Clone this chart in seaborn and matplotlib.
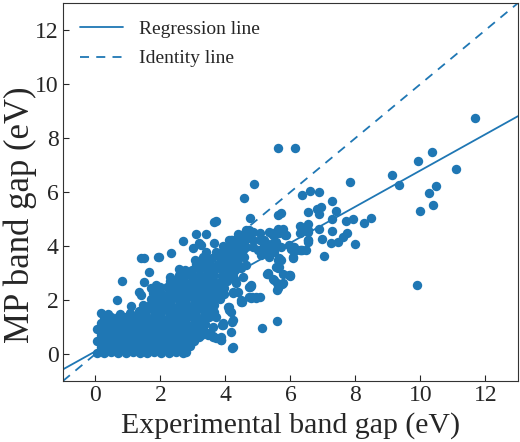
import numpy as np
import pandas as pd
import seaborn as sns
import matplotlib.pyplot as plt

# (experimental gap, MP gap) pairs, in eV
core_points = [
    (0.05, 0.05), (0.27, 0.04), (0.49, 0.06), (0.71, 0.05), (0.93, 0.04), (1.15, 0.06), (1.37, 0.05),
    (1.59, 0.04), (1.81, 0.06), (2.03, 0.05), (2.25, 0.04), (2.47, 0.06), (2.69, 0.05), (2.80, 0.08),
    (0.16, 0.27), (0.38, 0.28), (0.60, 0.26), (0.82, 0.27), (1.04, 0.29), (1.26, 0.27), (1.48, 0.26),
    (1.70, 0.28), (1.92, 0.27), (2.14, 0.26), (2.36, 0.28), (2.58, 0.27), (2.80, 0.27), (2.92, 0.30),
    (0.05, 0.49), (0.27, 0.50), (0.49, 0.48), (0.71, 0.49), (0.93, 0.51), (1.15, 0.49), (1.37, 0.48),
    (1.59, 0.50), (1.81, 0.49), (2.03, 0.48), (2.25, 0.50), (2.47, 0.49), (2.69, 0.51), (2.91, 0.49),
    (3.02, 0.47),
    (0.16, 0.71), (0.38, 0.70), (0.60, 0.72), (0.82, 0.71), (1.04, 0.70), (1.26, 0.72), (1.48, 0.71),
    (1.70, 0.70), (1.92, 0.72), (2.14, 0.71), (2.36, 0.70), (2.58, 0.72), (2.80, 0.71), (3.02, 0.70),
    (3.10, 0.74),
    (0.05, 0.93), (0.27, 0.94), (0.49, 0.92), (0.71, 0.93), (0.93, 0.95), (1.15, 0.93), (1.37, 0.92),
    (1.59, 0.94), (1.81, 0.93), (2.03, 0.92), (2.25, 0.94), (2.47, 0.93), (2.69, 0.95), (2.91, 0.93),
    (3.13, 0.92), (3.30, 0.95),
    (0.16, 1.15), (0.38, 1.14), (0.60, 1.16), (0.82, 1.15), (1.04, 1.14), (1.26, 1.16), (1.48, 1.15),
    (1.70, 1.14), (1.92, 1.16), (2.14, 1.15), (2.36, 1.14), (2.58, 1.16), (2.80, 1.15), (3.02, 1.14),
    (3.24, 1.16), (3.36, 1.13),
    (0.27, 1.37), (0.49, 1.38), (0.71, 1.36), (0.93, 1.37), (1.15, 1.39), (1.37, 1.37), (1.59, 1.36),
    (1.81, 1.38), (2.03, 1.37), (2.25, 1.36), (2.47, 1.38), (2.69, 1.37), (2.91, 1.39), (3.13, 1.37),
    (3.35, 1.36), (3.50, 1.38),
    (0.40, 1.50), (0.75, 1.48), (1.05, 1.52),
    (1.35, 1.59), (1.57, 1.60), (1.79, 1.58), (2.01, 1.59), (2.23, 1.61), (2.45, 1.59), (2.67, 1.58),
    (2.89, 1.60), (3.11, 1.59), (3.33, 1.58), (3.55, 1.60), (3.64, 1.57),
    (1.46, 1.81), (1.68, 1.80), (1.90, 1.82), (2.12, 1.81), (2.34, 1.80), (2.56, 1.82), (2.78, 1.81),
    (3.00, 1.80), (3.22, 1.82), (3.44, 1.81), (3.66, 1.80),
    (1.70, 2.03), (1.92, 2.04), (2.14, 2.02), (2.36, 2.03), (2.58, 2.05), (2.80, 2.03), (3.02, 2.02),
    (3.24, 2.04), (3.46, 2.03), (3.68, 2.02), (3.82, 2.05),
    (1.84, 2.25), (2.06, 2.24), (2.28, 2.26), (2.50, 2.25), (2.72, 2.24), (2.94, 2.26), (3.16, 2.25),
    (3.38, 2.24), (3.60, 2.26), (3.82, 2.25), (3.96, 2.23),
    (1.98, 2.47), (2.20, 2.48), (2.42, 2.46), (2.64, 2.47), (2.86, 2.49), (3.08, 2.47), (3.30, 2.46),
    (3.52, 2.48), (3.74, 2.47), (3.96, 2.46),
    (2.30, 2.69), (2.52, 2.68), (2.74, 2.70), (2.96, 2.69), (3.18, 2.68), (3.40, 2.70), (3.62, 2.69),
    (3.84, 2.68), (4.06, 2.70),
    (2.56, 2.91), (2.78, 2.92), (3.00, 2.90), (3.22, 2.91), (3.44, 2.93), (3.66, 2.91), (3.88, 2.90),
    (4.10, 2.92), (4.22, 2.89),
    (2.76, 3.13), (2.98, 3.12), (3.20, 3.14), (3.42, 3.13), (3.64, 3.12), (3.86, 3.14), (4.08, 3.13),
    (4.30, 3.12),
    (3.10, 3.35), (3.32, 3.36), (3.54, 3.34), (3.76, 3.35), (3.98, 3.37), (4.20, 3.35), (4.40, 3.34),
    (3.38, 3.57), (3.60, 3.56), (3.82, 3.58), (4.04, 3.57), (4.26, 3.56), (4.44, 3.58),
    (3.70, 3.79), (3.92, 3.80), (4.14, 3.78), (4.36, 3.79), (4.52, 3.81),
    (3.92, 4.01), (4.14, 4.02), (4.36, 4.00), (4.54, 4.03),
    (4.20, 4.23), (4.42, 4.24), (4.60, 4.22),
    (4.38, 4.45), (4.58, 4.46),
]

band_points = [
    (0.16, 1.51), (0.82, 2.70), (0.66, 2.01), (1.10, 1.78), (1.40, 3.57), (1.49, 3.57), (1.94, 3.60),
    (2.33, 3.75), (1.64, 3.05), (1.51, 2.68), (1.35, 2.31), (1.40, 2.19), (2.69, 4.20), (3.10, 4.44),
    (3.40, 4.43), (3.66, 4.90), (3.71, 4.93), (2.99, 3.91), (3.20, 4.10), (3.25, 4.04), (3.40, 3.79),
    (3.66, 4.10), (2.58, 3.14), (2.28, 2.86), (2.38, 2.74), (1.87, 2.55), (1.71, 2.43), (1.76, 2.25),
    (3.05, 3.48), (3.30, 3.60), (1.97, 3.60),
    (4.22, 0.27), (4.20, 0.23), (3.87, 0.52), (3.86, 0.52), (4.17, 0.83), (4.22, 1.26), (4.12, 1.63),
    (3.92, 1.14), (3.89, 1.09), (4.19, 1.17), (3.61, 0.64), (3.61, 0.68), (3.46, 0.70), (3.25, 0.70),
    (3.30, 0.74), (3.61, 1.01), (3.71, 1.38), (3.71, 0.58), (3.51, 0.77), (3.30, 0.89), (3.20, 0.64),
    (2.99, 0.64), (2.89, 0.77), (3.87, 0.64), (3.92, 1.07), (4.17, 1.57), (4.07, 1.75), (4.12, 1.75),
    (4.48, 1.94), (4.50, 1.94), (4.22, 2.31), (4.24, 2.25), (4.38, 2.31), (4.48, 2.00), (4.33, 2.62),
    (4.17, 2.80), (4.28, 2.74), (4.53, 2.86), (4.22, 2.99), (4.48, 3.17), (4.33, 3.23), (4.64, 3.30),
    (4.43, 3.60), (4.58, 3.60), (4.53, 3.85), (4.64, 3.97), (4.84, 3.97), (4.99, 3.85), (4.58, 4.35),
    (4.69, 4.28), (4.84, 4.22), (4.74, 4.59), (4.64, 4.59), (4.84, 4.53), (4.79, 4.53), (4.33, 4.22),
    (4.17, 4.22), (4.12, 3.97), (4.12, 4.22), (4.38, 4.28), (4.77, 5.03), (4.58, 5.79), (4.89, 6.31),
    (4.79, 2.52), (4.74, 2.49), (4.77, 2.49), (4.79, 2.56), (4.74, 2.12), (4.82, 2.11), (4.94, 2.10),
    (4.79, 2.06), (4.94, 2.06),
]

tail_points = [
    (5.05, 4.22), (5.20, 3.97), (5.15, 4.16), (5.25, 4.10), (5.41, 3.97), (5.46, 4.10), (5.56, 4.16),
    (5.35, 3.79), (5.51, 3.79), (5.05, 3.85), (5.10, 3.67), (5.35, 3.73), (5.35, 3.60), (5.61, 3.48),
    (5.25, 3.97), (5.51, 4.41), (5.61, 4.53), (5.35, 4.53), (5.05, 4.47), (5.41, 4.47), (5.66, 4.47),
    (5.87, 4.41), (5.61, 4.62), (5.76, 4.62), (5.82, 4.41), (5.46, 4.47), (5.46, 4.41), (5.20, 4.22),
    (5.10, 4.22), (5.51, 4.04), (5.41, 3.97), (5.56, 4.10), (5.71, 3.97), (5.62, 5.15), (5.71, 5.23),
    (5.61, 7.63), (6.14, 7.64), (5.66, 3.54), (5.71, 3.48), (5.66, 3.23), (5.61, 3.17), (5.56, 3.23),
    (6.07, 3.60), (6.07, 3.54), (6.17, 3.85), (6.33, 3.85), (6.07, 3.95), (5.97, 4.04), (6.02, 3.91),
    (6.12, 3.97), (6.28, 3.85), (6.35, 3.84), (6.48, 3.85), (6.02, 3.88),
    (5.30, 2.96), (5.30, 2.99), (5.48, 2.74), (5.46, 2.79), (5.28, 2.95), (5.74, 2.58), (5.76, 2.62),
    (5.58, 2.37), (5.61, 2.43), (5.59, 2.62), (5.76, 2.95), (5.97, 2.93), (5.98, 2.90), (5.05, 2.12),
    (5.98, 2.93), (5.14, 0.95), (5.58, 1.21),
    (6.35, 5.90), (6.60, 6.05), (6.89, 6.00), (7.28, 5.68), (7.40, 5.31), (6.81, 5.37), (6.94, 5.43),
    (6.87, 5.17), (6.53, 5.26), (7.28, 5.00), (7.71, 4.94), (7.92, 5.00), (8.26, 4.85), (8.49, 5.04),
    (6.28, 4.74), (6.35, 4.62), (6.53, 4.83), (6.89, 4.62), (7.28, 4.54), (6.53, 4.53), (6.53, 4.22),
    (6.53, 4.16), (6.28, 4.47), (6.53, 4.59), (6.97, 4.26), (7.25, 4.10), (7.46, 4.16), (7.61, 4.35),
    (7.74, 4.47), (7.99, 4.07), (7.02, 3.63), (7.84, 6.37), (6.54, 4.22),
    (9.14, 6.62), (9.33, 6.27), (9.94, 7.14), (10.37, 7.47), (11.08, 6.85), (10.48, 6.22),
    (10.27, 5.97), (10.39, 5.53), (9.99, 5.28), (9.90, 2.54), (11.67, 8.73),
]

# fitted line
reg_slope = 0.67
reg_intercept = 0.10

points = core_points + band_points + tail_points
df = pd.DataFrame(points, columns=['exp_gap', 'mp_gap'])

sns.set_style('ticks')
plt.rcParams['font.family'] = ['Liberation Serif', 'DejaVu Serif']

blue = '#1f77b4'

fig = plt.figure(figsize=(5.2, 4.42), dpi=100)
ax = fig.add_axes([0.121, 0.138, 0.875, 0.855])

sns.scatterplot(data=df, x='exp_gap', y='mp_gap', s=46, color=blue, linewidth=0, ax=ax)
ax.axline((0, reg_intercept), slope=reg_slope, color=blue, lw=1.3, label='Regression line')
ax.axline((0, 0), slope=1, color=blue, lw=1.3, ls=(0, (5, 4)), label='Identity line')

ax.set_xlim(-1, 13)
ax.set_ylim(-1, 13)
ax.set_xticks([0, 2, 4, 6, 8, 10, 12])
ax.set_yticks([0, 2, 4, 6, 8, 10, 12])
ax.tick_params(direction='in', length=4, width=0.8, labelsize=17, pad=3)
for sp in ax.spines.values():
    sp.set_linewidth(0.8)
    sp.set_color('#333333')

ax.set_xlabel('Experimental band gap (eV)', fontsize=21.5, labelpad=4)
ax.set_ylabel('MP band gap (eV)', fontsize=25)
ax.yaxis.set_label_coords(-0.056, 0.44)

ax.legend(loc='upper left', frameon=False, fontsize=14, handlelength=2.2,
          handletextpad=0.8, borderaxespad=0.5, labelspacing=0.6)

fig.savefig('out.png', dpi=100)
